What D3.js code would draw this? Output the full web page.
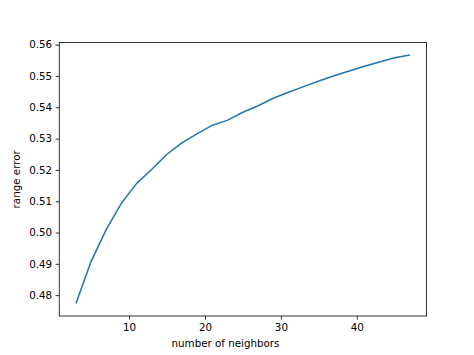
<!DOCTYPE html>
<html>
<head>
<meta charset="utf-8">
<script src="https://cdn.jsdelivr.net/npm/d3@7"></script>
<style>
  html, body { margin: 0; padding: 0; background: #fff; }
  svg { display: block; }
  text { font-family: "DejaVu Sans", sans-serif; fill: #000; }
</style>
</head>
<body>
<script>
const neighbors = [3, 5, 7, 9, 11, 13, 15, 17, 19, 21, 23, 25, 27, 29, 31, 33, 35, 37, 39, 41, 43, 45, 47];
const rangeError = [0.4773, 0.4908, 0.5010, 0.5094, 0.5157, 0.5202, 0.5250, 0.5287, 0.5316, 0.5343, 0.5359, 0.5384,
                    0.5405, 0.5429, 0.5448, 0.5466, 0.5484, 0.5501, 0.5516, 0.5531, 0.5545, 0.5558, 0.5567];
const xTicks = [10, 20, 30, 40];
const yTicks = [0.48, 0.49, 0.50, 0.51, 0.52, 0.53, 0.54, 0.55, 0.56];
const xLabel = "number of neighbors";
const yLabel = "range error";

const W = 474, H = 355;
const mLeft = 59.25, mRight = 426.6, mTop = 42.6, mBottom = 316;

const svg = d3.select("body").append("svg").attr("width", W).attr("height", H);

const xMin = d3.min(neighbors), xMax = d3.max(neighbors);
const xPad = (xMax - xMin) * 0.05;
const yMin = d3.min(rangeError), yMax = d3.max(rangeError);
const yPad = (yMax - yMin) * 0.05;

const x = d3.scaleLinear().domain([xMin - xPad, xMax + xPad]).range([mLeft, mRight]);
const y = d3.scaleLinear().domain([yMin - yPad, yMax + yPad]).range([mBottom, mTop]);

const fs = 10.3;

const xAxis = d3.axisBottom(x).tickValues(xTicks).tickFormat(d3.format("d")).tickSize(3.6).tickPadding(3.6);
const gx = svg.append("g").attr("transform", `translate(0,${mBottom})`).call(xAxis);
const yAxis = d3.axisLeft(y).tickValues(yTicks).tickFormat(d3.format(".2f")).tickSize(3.6).tickPadding(3.6);
const gy = svg.append("g").attr("transform", `translate(${mLeft},0)`).call(yAxis);

[gx, gy].forEach(g => {
  g.select(".domain").remove();
  g.selectAll(".tick line").attr("stroke", "#000").attr("stroke-width", 0.8);
  g.selectAll(".tick text").attr("font-size", fs).attr("font-family", "DejaVu Sans").attr("fill", "#000");
});

const line = d3.line().x((d, i) => x(neighbors[i])).y(d => y(d));
svg.append("path").datum(rangeError)
  .attr("d", line)
  .attr("fill", "none")
  .attr("stroke", "#1f77b4")
  .attr("stroke-width", 1.55)
  .attr("stroke-linejoin", "round")
  .attr("stroke-linecap", "butt");

svg.append("rect")
  .attr("x", mLeft).attr("y", mTop)
  .attr("width", mRight - mLeft).attr("height", mBottom - mTop)
  .attr("fill", "none").attr("stroke", "#000").attr("stroke-width", 0.8);

svg.append("text")
  .attr("x", 225.5).attr("y", 347)
  .attr("text-anchor", "middle").attr("font-size", fs)
  .text(xLabel);

svg.append("text")
  .attr("transform", `translate(19.5,${(mTop + mBottom) / 2}) rotate(-90)`)
  .attr("text-anchor", "middle").attr("font-size", fs)
  .text(yLabel);
</script>
</body>
</html>
